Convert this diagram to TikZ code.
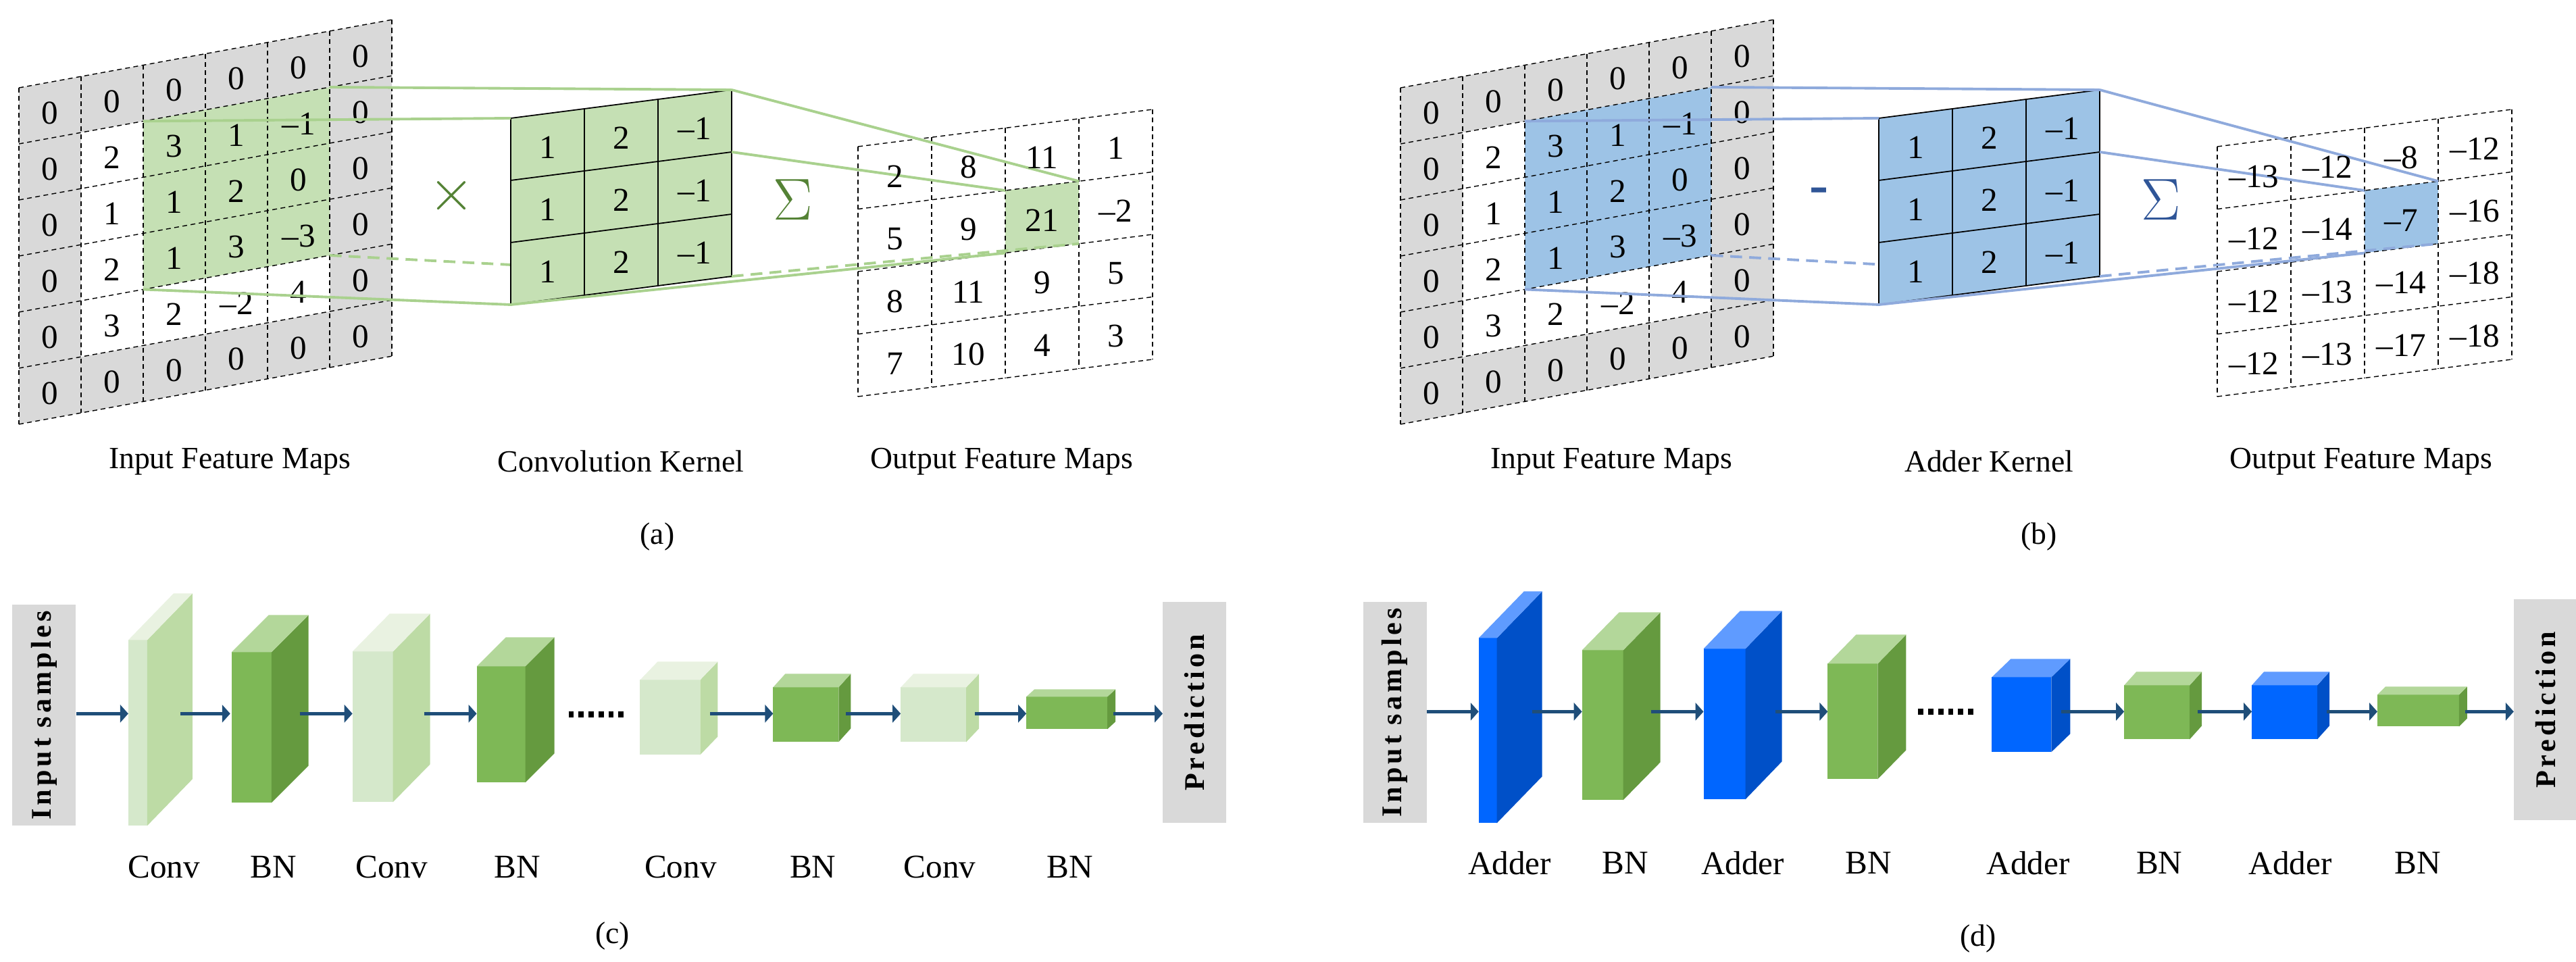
\documentclass[tikz,border=0pt]{standalone}
\usepackage{fontspec}
\setmainfont{Liberation Serif}
\usetikzlibrary{arrows.meta}
\definecolor{gbg}{HTML}{D9D9D9}
\definecolor{gfill}{HTML}{C5E0B4}
\definecolor{gline}{HTML}{A9D18E}
\definecolor{gdark}{HTML}{548235}
\definecolor{bfill}{HTML}{9DC3E6}
\definecolor{bline}{HTML}{8FAADC}
\definecolor{bdark}{HTML}{2F5597}
\definecolor{arr}{HTML}{1F4E79}
\definecolor{cvF}{HTML}{D5E8CB}\definecolor{cvS}{HTML}{BDDBA5}\definecolor{cvT}{HTML}{E9F2E1}
\definecolor{bnF}{HTML}{7EB856}\definecolor{bnS}{HTML}{659A3F}\definecolor{bnT}{HTML}{B3D79A}
\definecolor{adF}{HTML}{0066FF}\definecolor{adS}{HTML}{0050C8}\definecolor{adT}{HTML}{5F9BFF}
\tikzset{
  num/.style={font=\fontsize{14}{14}\selectfont, inner sep=0pt},
  lab/.style={font=\fontsize{13}{13}\selectfont, inner sep=0pt},
  blab/.style={font=\fontsize{14}{14}\selectfont, inner sep=0pt},
  dgrid/.style={dash pattern=on 2pt off 1.5pt, line width=0.4pt},
  kgrid/.style={line width=0.5pt},
  conn/.style={line width=1.1pt},
  hid/.style={line width=1.1pt, dash pattern=on 5pt off 3pt},
  flow/.style={arr, line width=1.6pt, -{Triangle[length=0.12cm,width=0.26cm]}},
  side/.style={fill=gbg, minimum width=0.94cm, inner sep=0pt},
  sidetxt/.style={font=\fontsize{12}{12}\selectfont\bfseries\addfontfeature{LetterSpace=12}},
}
\newcommand{\sgrid}[2]{% cols rows (dashed)
  \foreach \i in {0,...,#1} \draw[dgrid] (\i,0) -- (\i,#2);
  \foreach \j in {0,...,#2} \draw[dgrid] (0,\j) -- (#1,\j);}
% cube: x y w h dx dy front side top (pixel units)
\newcommand{\cube}[9]{%
  \fill[#7] (#1,#2) rectangle ++(#3,#4);
  \fill[#8] (#1+#3,#2) -- ++(#5,#6) -- ++(0,#4) -- (#1+#3,#2+#4) -- cycle;
  \fill[#9] (#1,#2) -- ++(#5,#6) -- ++(#3,0) -- (#1+#3,#2) -- cycle;}
\begin{document}
\begin{tikzpicture}
\useasboundingbox (0,0) rectangle (38.13,-14.24);

% ================= panel (a) and (b) =================
\foreach \P/\dx/\kx/\ox/\FC/\LC/\DC/\op/\KL in {a/0/0/0/gfill/gline/gdark/{$\times$}/Convolution Kernel, b/20.45/20.25/20.12/bfill/bline/bdark/{\textbf{-}}/Adder Kernel}{
  % input maps
  \begin{scope}[cm={0.92,0.168,0,-0.83,(0.28+\dx,-1.30)}]
    \fill[gbg] (0,0) rectangle (6,6);
    \fill[white] (1,1) rectangle (5,5);
    \fill[\FC] (2,1) rectangle (5,4);
    \sgrid{6}{6}
    \foreach \row [count=\r from 0] in {{0,0,0,0,0,0},{0,2,3,1,–1,0},{0,1,1,2,0,0},{0,2,1,3,–3,0},{0,3,2,–2,4,0},{0,0,0,0,0,0}}
      \foreach \v [count=\c from 0] in \row
        \node[num] (in\P-\r-\c) at (\c+0.5,\r+0.55) {\v};
    \coordinate (\P aTL) at (2,1); \coordinate (\P aTR) at (5,1);
    \coordinate (\P aBL) at (2,4); \coordinate (\P aBR) at (5,4);
  \end{scope}
  \begin{scope}[cm={1.09,0.14,0,-0.92,(7.56+\kx,-1.75)}]
    \coordinate (\P kTL) at (0,0); \coordinate (\P kTR) at (3,0);
    \coordinate (\P kR1) at (3,1); \coordinate (\P kBL) at (0,3); \coordinate (\P kBR) at (3,3);
  \end{scope}
  \draw[hid,\LC] (\P aBR) -- (\P kBR);
  \begin{scope}[cm={1.09,0.14,0,-0.92,(7.56+\kx,-1.75)}]
    \fill[\FC] (0,0) rectangle (3,3);
    \foreach \i in {0,...,3} \draw[kgrid] (\i,0) -- (\i,3);
    \foreach \j in {0,...,3} \draw[kgrid] (0,\j) -- (3,\j);
    \foreach \r in {0,1,2}{
      \node[num] (k\P-\r-0) at (0.5,\r+0.55) {1};
      \node[num] (k\P-\r-1) at (1.5,\r+0.55) {2};
      \node[num] (k\P-\r-2) at (2.5,\r+0.55) {–1};}
  \end{scope}
  \draw[conn,\LC] (\P aTL) -- (\P kTL);
  \draw[conn,\LC] (\P aTR) -- (\P kTR);
  \draw[conn,\LC] (\P aBL) -- (\P kBL);
  % output
  \begin{scope}[cm={1.09,0.1375,0,-0.925,(12.70+\ox,-2.17)}]
    \fill[\FC] (2,1) rectangle (3,2);
    \sgrid{4}{4}
    \coordinate (\P oTL) at (2,1); \coordinate (\P oTR) at (3,1);
    \coordinate (\P oBL) at (2,2); \coordinate (\P oBR) at (3,2);
  \end{scope}
  \draw[conn,\LC] (\P kTR) -- (\P oTR);
  \draw[conn,\LC] (\P kR1) -- (\P oTL);
  \draw[conn,\LC] (\P kBL) -- (\P oBL);
  \draw[hid,\LC] (\P kBR) -- (\P oBR);
  \node[text=\DC, font=\fontsize{24}{24}\selectfont] (op\P) at (6.68+\kx,-2.90) {\op};
  \node[text=\DC, font=\fontsize{26}{26}\selectfont] (sum\P) at (11.74+\kx,-2.96) {$\Sigma$};
  \node[lab] (l1\P) at (3.40+\dx,-6.83) {Input Feature Maps};
  \node[lab] (l2\P) at (9.19+\kx,-6.83) {\KL};
  \node[lab] (l3\P) at (14.83+\ox,-6.83) {Output Feature Maps};
  \node[lab] (cap\P) at (9.73+\dx,-7.95) {(\P)};
}
% output numbers
\begin{scope}[cm={1.09,0.1375,0,-0.925,(12.70,-2.17)}]
  \foreach \row [count=\r from 0] in {{2,8,11,1},{5,9,21,–2},{8,11,9,5},{7,10,4,3}}
    \foreach \v [count=\c from 0] in \row \node[num] (outa-\r-\c) at (\c+0.5,\r+0.55) {\v};
\end{scope}
\begin{scope}[cm={1.09,0.1375,0,-0.925,(32.82,-2.17)}]
  \foreach \row [count=\r from 0] in {{–13,–12,–8,–12},{–12,–14,–7,–16},{–12,–13,–14,–18},{–12,–13,–17,–18}}
    \foreach \v [count=\c from 0] in \row \node[num] (outb-\r-\c) at (\c+0.5,\r+0.55) {\v};
\end{scope}

% ================= panel (c) and (d) =================
\begin{scope}[x=0.01cm,y=-0.01cm]
  % (c)
  \node[side, minimum height=3.27cm] (inc) at (65.5,1059.5) {};
  \node[sidetxt, rotate=90] at (inc) {Input samples};
  \node[side, minimum height=3.27cm] (prc) at (1769,1055.5) {};
  \node[sidetxt, rotate=90] at (prc) {Prediction};
  \cube{190}{948}{28}{275}{67}{-69}{cvF}{cvS}{cvT}
  \cube{343}{966}{59}{223}{55}{-55}{bnF}{bnS}{bnT}
  \cube{522}{965}{60}{223}{55}{-56}{cvF}{cvS}{cvT}
  \cube{706}{987}{72}{172}{43}{-43}{bnF}{bnS}{bnT}
  \cube{948}{1007}{89}{111}{26}{-27}{cvF}{cvS}{cvT}
  \cube{1145}{1018}{97}{81}{18}{-20}{bnF}{bnS}{bnT}
  \cube{1334}{1018}{97}{81}{19}{-20}{cvF}{cvS}{cvT}
  \cube{1520}{1032}{120}{48}{12}{-11}{bnF}{bnS}{bnT}
  \draw[line width=2.4pt, dash pattern=on 2.2pt off 2pt] (842,1058) -- (926,1058);
  \foreach \a/\b [count=\k] in {113/190,267/341,444/522,628/706,1052/1145,1253/1334,1444/1520,1649/1722}{
    \coordinate (cs\k) at (\a,1057); \coordinate (ce\k) at (\b,1057);
    \draw[flow] (cs\k) -- (ce\k);}
  \foreach \x/\t [count=\k] in {243/Conv,405/BN,580/Conv,766/BN,1008/Conv,1204/BN,1392/Conv,1585/BN}
    \node[blab] (lc\k) at (\x,1284) {\t};
  \node[lab] (capc) at (907,1386) {(c)};
  % (d)
  \node[side, minimum height=3.27cm] (ind) at (2066,1055.5) {};
  \node[sidetxt, rotate=90] at (ind) {Input samples};
  \node[side, minimum height=3.27cm] (prd) at (3770,1051.5) {};
  \node[sidetxt, rotate=90] at (prd) {Prediction};
  \cube{2190}{945}{27}{274}{67}{-69}{adF}{adS}{adT}
  \cube{2343}{963}{61}{222}{55}{-56}{bnF}{bnS}{bnT}
  \cube{2523}{961}{62}{223}{54}{-56}{adF}{adS}{adT}
  \cube{2707}{983}{74}{171}{42}{-43}{bnF}{bnS}{bnT}
  \cube{2950}{1003}{88}{111}{28}{-27}{adF}{adS}{adT}
  \cube{3146}{1015}{97}{80}{18}{-20}{bnF}{bnS}{bnT}
  \cube{3335}{1015}{97}{80}{18}{-20}{adF}{adS}{adT}
  \cube{3521}{1029}{121}{47}{12}{-12}{bnF}{bnS}{bnT}
  \draw[line width=2.4pt, dash pattern=on 2.2pt off 2pt] (2841,1054) -- (2926,1054);
  \foreach \a/\b [count=\k] in {2113/2190,2269/2343,2445/2523,2629/2707,3053/3146,3255/3335,3446/3521,3651/3723}{
    \coordinate (ds\k) at (\a,1054); \coordinate (de\k) at (\b,1054);
    \draw[flow] (ds\k) -- (de\k);}
  \foreach \x/\t [count=\k] in {2236/Adder,2407/BN,2581/Adder,2767/BN,3004/Adder,3198/BN,3392/Adder,3581/BN}
    \node[blab] (ld\k) at (\x,1278) {\t};
  \node[lab] (capd) at (2930,1390) {(d)};
\end{scope}
\end{tikzpicture}
\end{document}
